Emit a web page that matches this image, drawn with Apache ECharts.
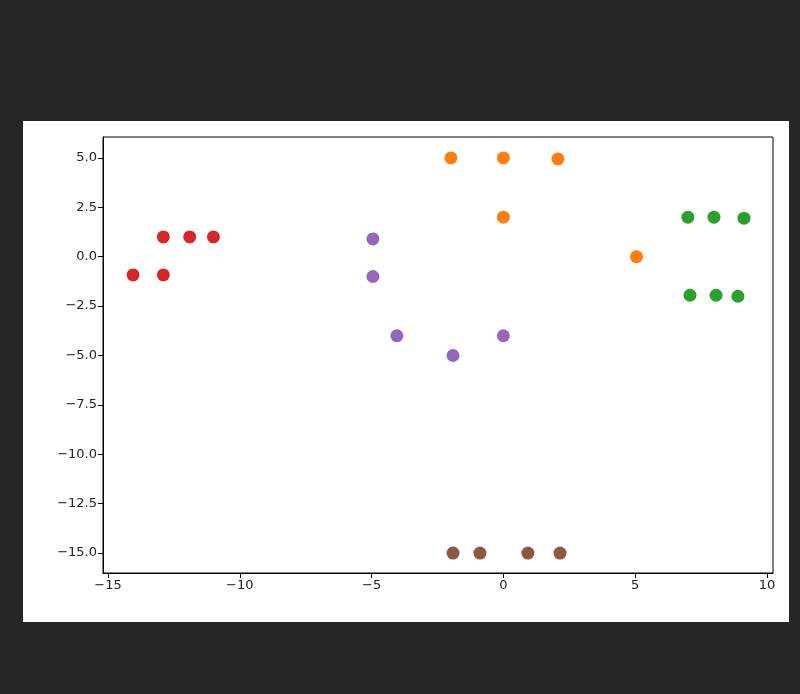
<!DOCTYPE html>
<html>
<head>
<meta charset="utf-8">
<script src="https://cdn.jsdelivr.net/npm/echarts@6/dist/echarts.min.js"></script>
<style>html,body{margin:0;padding:0;background:#262626;}#chart{width:800px;height:694px;}</style>
</head>
<body>
<div id="chart"></div>
<script>
// points per group [x, y]
const redPts = [[-14.05, -0.92], [-12.9, -0.92], [-12.9, 1], [-11.9, 1], [-11, 1]]
const purplePts = [[-4.95, 0.9], [-4.95, -1], [-4.04, -4], [-1.91, -5], [0, -4]]
const orangePts = [[-1.99, 5], [0, 5], [2.07, 4.95], [0, 2], [5.05, 0]]
const greenPts = [[7.0, 2], [7.99, 2], [9.13, 1.95], [7.08, -1.95], [8.07, -1.95], [8.9, -2]]
const brownPts = [[-1.91, -15], [-0.89, -15], [0.93, -15], [2.15, -15]]
const xTicks = [-15, -10, -5, 0, 5, 10]
const yTicks = [5, 2.5, 0, -2.5, -5, -7.5, -10, -12.5, -15]

const groups = [
    [redPts, "#d62728"],
    [purplePts, "#9467bd"],
    [orangePts, "#ff7f0e"],
    [greenPts, "#2ca02c"],
    [brownPts, "#8c564b"],
]

const fmt = v => (v < 0 ? "\u2212" : "") + Math.abs(v)
const label = { fontFamily: "DejaVu Sans", fontSize: 13, color: "#222" }

let chart = echarts.init(document.getElementById("chart"))
chart.setOption({
    backgroundColor: "#262626",
    animation: false,
    graphic: [{
        type: "rect", z: -10,
        shape: { x: 23, y: 121, width: 766, height: 501 },
        style: { fill: "#fff" }
    }],
    grid: { left: 103, top: 137, right: 27, bottom: 121, show: true, borderColor: "#000", borderWidth: 1, backgroundColor: "transparent" },
    xAxis: {
        type: "value", min: -15.19, max: 10.23,
        axisLine: { onZero: false, lineStyle: { color: "#000" } },
        axisTick: { customValues: xTicks, length: 5, lineStyle: { color: "#000" } },
        axisLabel: { ...label, customValues: xTicks, formatter: fmt, margin: 6 },
        splitLine: { show: false }
    },
    yAxis: {
        type: "value", min: -16.01, max: 6.06,
        axisLine: { show: true, onZero: false, lineStyle: { color: "#000" } },
        axisTick: { show: true, customValues: yTicks, length: 5, lineStyle: { color: "#000" } },
        axisLabel: { ...label, customValues: yTicks, formatter: v => fmt(Number(v.toFixed(1))).replace(/^(\u2212?\d+)$/, "$1.0"), margin: 6 },
        splitLine: { show: false }
    },
    series: groups.map(([pts, color]) => ({
        type: "scatter",
        data: pts,
        symbolSize: 13,
        itemStyle: { color: color, opacity: 1 }
    }))
})
</script>
</body>
</html>
